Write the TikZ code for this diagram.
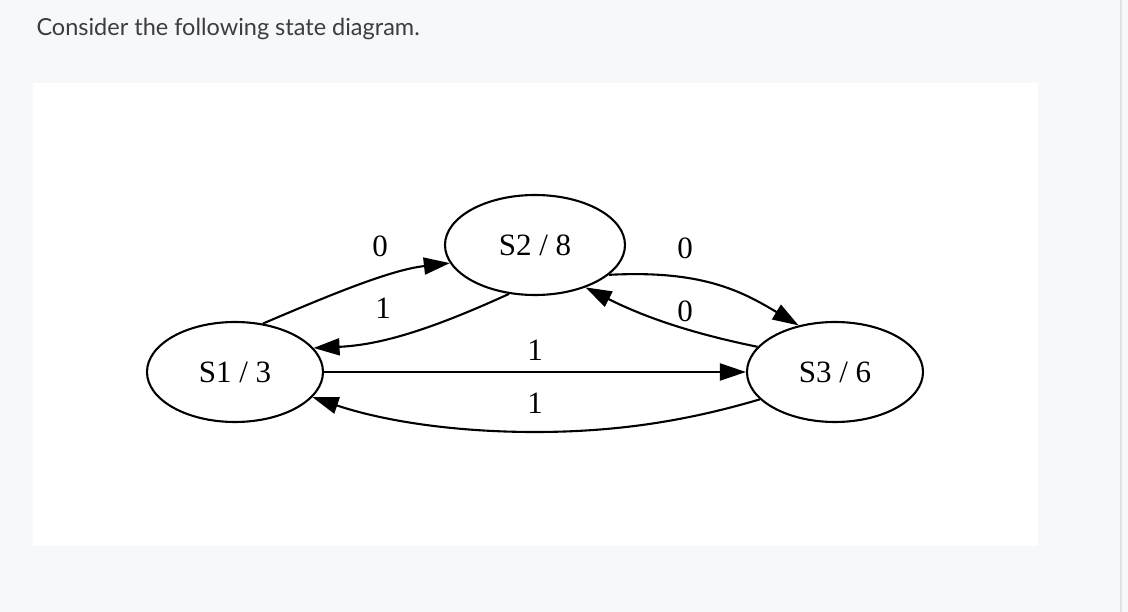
\documentclass[tikz,border=0pt]{standalone}
\usepackage{fontspec}
\setmainfont{Liberation Serif}
\newfontfamily\hdfont{Lato}
\usetikzlibrary{shapes.geometric,arrows.meta}
\begin{document}
\begin{tikzpicture}[x=1pt,y=-1pt,
  st/.style={ellipse,draw,line width=2.1pt,minimum width=176pt,minimum height=100pt,font=\fontsize{31}{31}\selectfont},
  tr/.style={line width=2.1pt,-{Triangle[length=26pt,width=17pt]}},
  lb/.style={font=\fontsize{31}{31}\selectfont}]
\fill[fill={rgb,255:red,247;green,248;blue,250}] (0,0) rectangle (1128,612);
\useasboundingbox (0,0) rectangle (1128,612);
\draw[draw={rgb,255:red,225;green,227;blue,230},line width=1.5pt] (1121,0) -- (1121,612);
\fill[white] (33,83) rectangle (1038,546);
\node[anchor=west,font=\hdfont\fontsize{23.5}{23.5}\selectfont,text={rgb,255:red,60;green,60;blue,65}] (hd) at (33,29) {Consider the following state diagram.};
\node[st] (s1) at (235,372) {S1 / 3};
\node[st,minimum width=180pt] (s2) at (535,245) {S2 / 8};
\node[st] (s3) at (835,372) {S3 / 6};
\draw[tr] (s1.60) .. controls (330,295) and (390,270) .. (s2.192);
\draw[tr] (s2.242) .. controls (430,330) and (380,345) .. (s1.17);
\draw[tr] (s2.-22) .. controls (700,270) and (740,290) .. (s3.128);
\draw[tr] (s3.162) .. controls (700,335) and (650,320) .. (s2.-40);
\draw[tr] (s1.east) -- (s3.west);
\draw[tr] (s3.-160) .. controls (690,420) and (620,432) .. (535,432) .. controls (450,432) and (380,420) .. (s1.-18);
\node[lb] (l1) at (380,246) {0};
\node[lb] (l2) at (383,308) {1};
\node[lb] (l3) at (685,248) {0};
\node[lb] (l4) at (685,311) {0};
\node[lb] (l5) at (535,350) {1};
\node[lb] (l6) at (535,403) {1};
\end{tikzpicture}
\end{document}
